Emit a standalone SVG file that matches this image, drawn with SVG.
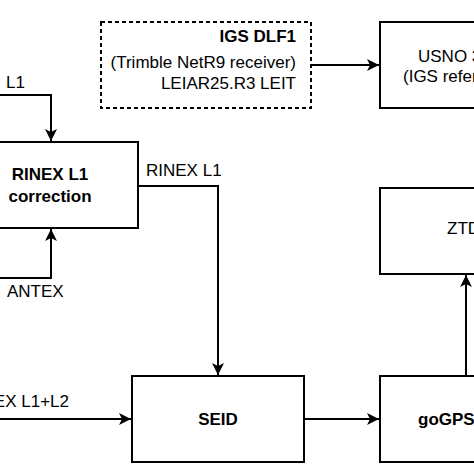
<svg xmlns="http://www.w3.org/2000/svg" width="474" height="474" viewBox="0 0 474 474">
<style>
.box{fill:#fff;stroke:#000;stroke-width:2}
.dash{fill:#fff;stroke:#000;stroke-width:2;stroke-dasharray:4 3}
.t{font-family:"Liberation Sans",Arial,sans-serif;font-size:17px;fill:#000}
.b{font-weight:bold}
.c{stroke:#000;stroke-width:2;fill:none}
</style>
<defs>
<marker id="ah" viewBox="0 0 12 12" refX="12" refY="6" markerWidth="12" markerHeight="12" orient="auto" markerUnits="userSpaceOnUse">
<path d="M0,0 L12,6 L0,12 L3,6 z" fill="#000"/>
</marker>
</defs>
<rect width="474" height="474" fill="#fff"/>
<g id="connectors">
<polyline class="c" points="0,95 51,95 51,141" marker-end="url(#ah)"/>
<polyline class="c" points="0,278 51,278 51,229" marker-end="url(#ah)"/>
<polyline class="c" points="138,186 218,186 218,375" marker-end="url(#ah)"/>
<line class="c" x1="0" y1="419" x2="131" y2="419" marker-end="url(#ah)"/>
<line class="c" x1="311" y1="65" x2="379" y2="65" marker-end="url(#ah)"/>
<line class="c" x1="304" y1="419" x2="379" y2="419" marker-end="url(#ah)"/>
<line class="c" x1="466" y1="376" x2="466" y2="275" marker-end="url(#ah)"/>
<text class="t" x="6" y="88">L1</text>
<text class="t" x="7" y="297">ANTEX</text>
<text class="t" x="146" y="176">RINEX L1</text>
<text class="t" x="69" y="407" text-anchor="end">RINEX L1+L2</text>
</g>
<g id="igs-dlf1">
<rect class="dash" x="101" y="22" width="210" height="86"/>
<text class="t b" x="296" y="42" text-anchor="end">IGS DLF1</text>
<text class="t" x="296" y="68" text-anchor="end">(Trimble NetR9 receiver)</text>
<text class="t" x="296" y="89" text-anchor="end">LEIAR25.R3 LEIT</text>
</g>
<g id="usno">
<rect class="box" x="380" y="22" width="120" height="86"/>
<text class="t" x="418" y="62">USNO 3</text>
<text class="t" x="403" y="82">(IGS reference)</text>
</g>
<g id="rinex-correction">
<rect class="box" x="-38" y="142" width="176" height="86"/>
<text class="t b" x="50" y="180" text-anchor="middle">RINEX L1</text>
<text class="t b" x="50" y="202" text-anchor="middle">correction</text>
</g>
<g id="ztd">
<rect class="box" x="380" y="188" width="120" height="86"/>
<text class="t" x="447" y="234">ZTD</text>
</g>
<g id="seid">
<rect class="box" x="132" y="376" width="172" height="86"/>
<text class="t b" x="218" y="425" text-anchor="middle">SEID</text>
</g>
<g id="gogps">
<rect class="box" x="380" y="376" width="120" height="86"/>
<text class="t b" x="418" y="425">goGPS</text>
</g>
</svg>
